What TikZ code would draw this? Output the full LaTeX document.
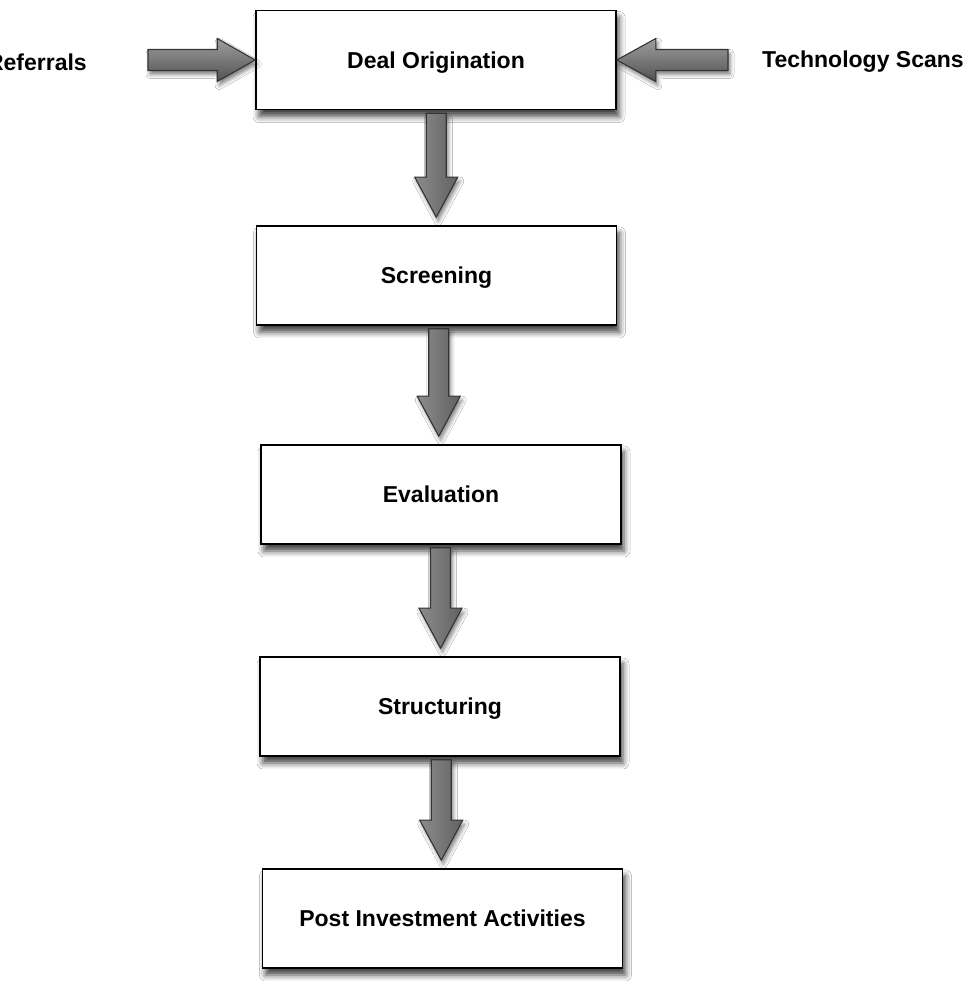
\documentclass[tikz,border=0pt]{standalone}
\usepackage{fontspec}
\setmainfont{Liberation Sans}
\usetikzlibrary{calc,shadows.blur}
\tikzset{
  stage/.style={draw=black, line width=1.6pt, fill=white, minimum width=360pt, minimum height=99pt, inner sep=0pt,
    text height=17pt, text depth=0pt,
    font=\fontsize{23}{27}\selectfont\bfseries,
    blur shadow={shadow xshift=3pt, shadow yshift=-7pt, shadow blur radius=6pt, shadow opacity=75}},
  source/.style={font=\fontsize{23}{27}\selectfont\bfseries, inner sep=0pt},
  blkarrow/.style={draw=black!80, line width=1.1pt, line join=miter, top color=black!38, bottom color=black!68,
    blur shadow={shadow xshift=2pt, shadow yshift=-4pt, shadow blur radius=4pt, shadow opacity=50}},
  blkarrowv/.style={draw=black!80, line width=1.1pt, line join=miter, left color=black!45, right color=black!62,
    blur shadow={shadow xshift=2pt, shadow yshift=-4pt, shadow blur radius=4pt, shadow opacity=50}}
}
\newcommand\downblk[2]{%
  \path[blkarrowv] let \p1=(#1.south), \p2=(#2.north), \n1={(\x1+\x2)/2} in
    (\n1-10pt,\y1-3pt) -- (\n1-10pt,\y2+48pt) -- (\n1-21.5pt,\y2+48pt) -- (\n1,\y2+8pt)
    -- (\n1+21.5pt,\y2+48pt) -- (\n1+10pt,\y2+48pt) -- (\n1+10pt,\y1-3pt) -- cycle;}
\newcommand\rightblk[2]{%
  \path[blkarrow] let \p1=(#1), \p2=(#2.west) in
    (\x1,\y2+10.5pt) -- (\x2-38pt,\y2+10.5pt) -- (\x2-38pt,\y2+21.5pt) -- (\x2,\y2)
    -- (\x2-38pt,\y2-21.5pt) -- (\x2-38pt,\y2-10.5pt) -- (\x1,\y2-10.5pt) -- cycle;}
\newcommand\leftblk[2]{%
  \path[blkarrow] let \p1=(#1), \p2=(#2.east) in
    (\x1,\y2+10.5pt) -- (\x2+39pt,\y2+10.5pt) -- (\x2+39pt,\y2+21.5pt) -- (\x2,\y2)
    -- (\x2+39pt,\y2-21.5pt) -- (\x2+39pt,\y2-10.5pt) -- (\x1,\y2-10.5pt) -- cycle;}
\begin{document}
\begin{tikzpicture}[x=1pt,y=1pt]
\useasboundingbox (0,0) rectangle (974,994);
\clip (0,0) rectangle (974,994);
\fill[white] (0,0) rectangle (974,994);
\node[stage] (deal) at (436,934) {Deal Origination};
\node[stage] (screen) at (436.5,718.5) {Screening};
\node[stage] (eval) at (441,499.5) {Evaluation};
\node[stage] (struct) at (440,287.5) {Structuring};
\node[stage] (post) at (442.5,75.5) {Post Investment Activities};
\node[source, anchor=east] (ref) at (87,932) {Referrals};
\node[source, anchor=west] (tech) at (762,932) {Technology Scans};
\coordinate (refsrc) at (148,934);
\coordinate (techsrc) at (728,934);
\rightblk{refsrc}{deal}
\leftblk{techsrc}{deal}
\downblk{deal}{screen}
\downblk{screen}{eval}
\downblk{eval}{struct}
\downblk{struct}{post}
\end{tikzpicture}
\end{document}
